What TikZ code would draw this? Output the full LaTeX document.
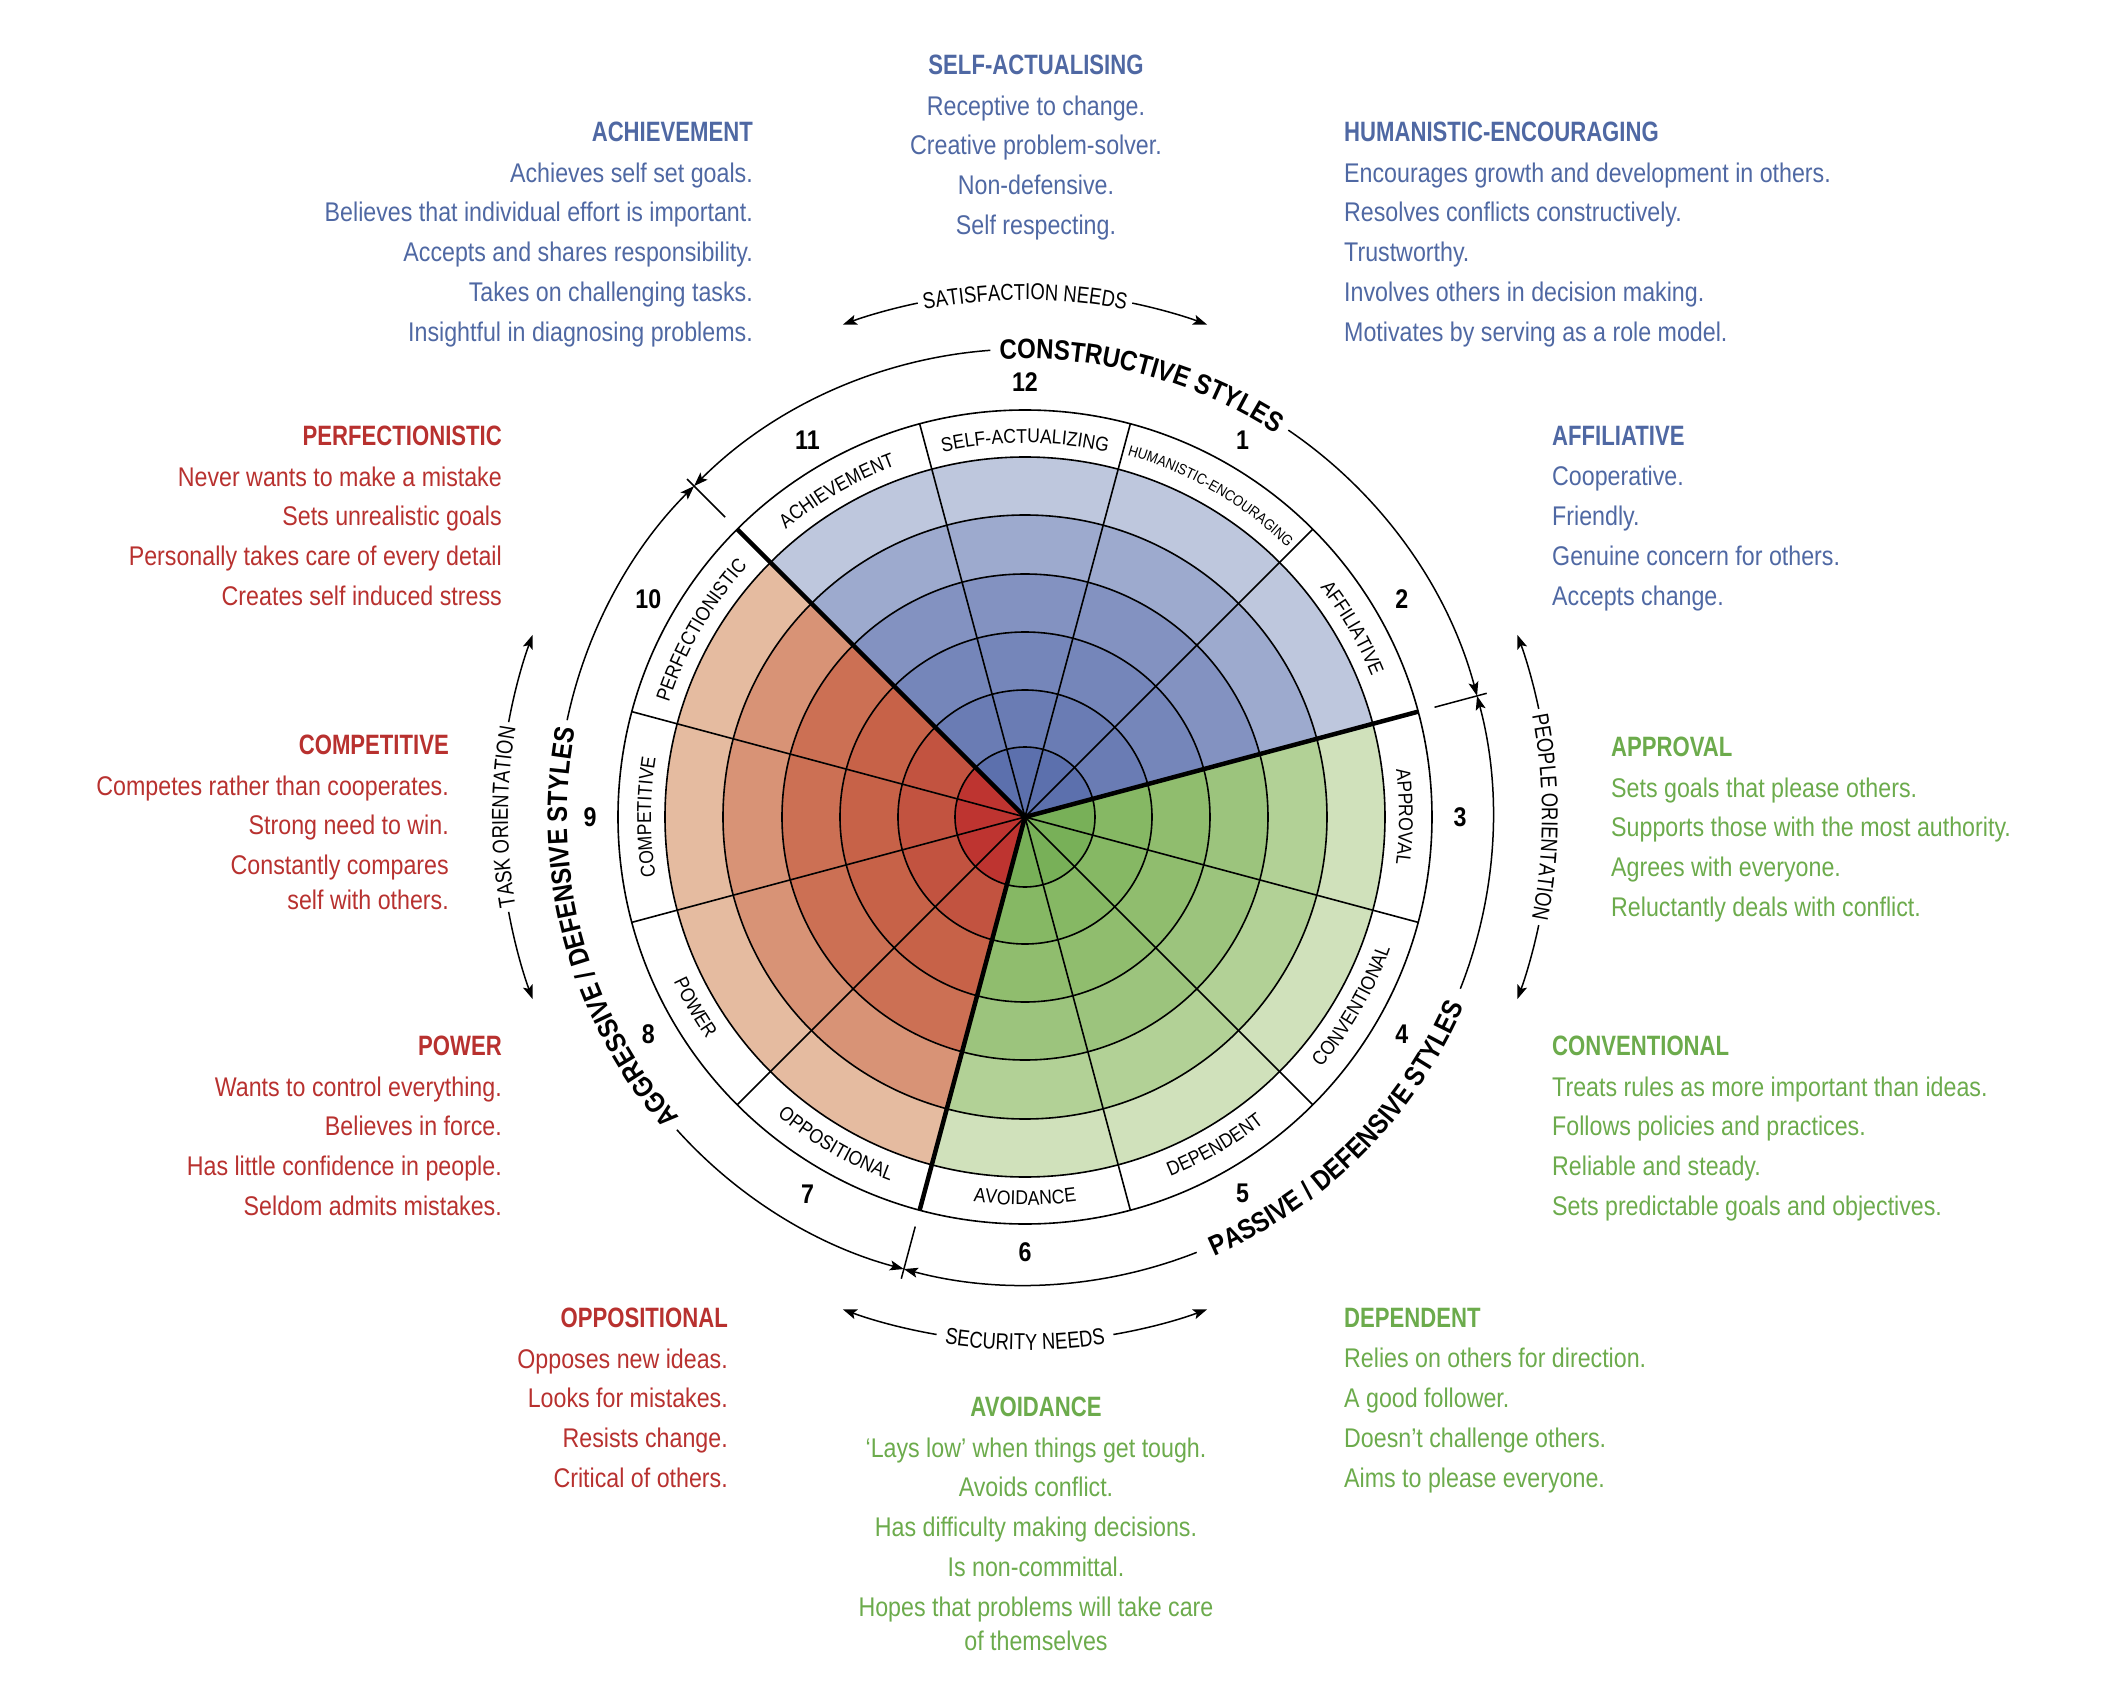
\documentclass[tikz,border=0pt]{standalone}
\usepackage{fontspec}
\setmainfont{Liberation Sans}[FakeStretch=0.86]
\newfontfamily\hdfont{Liberation Sans}[FakeStretch=0.79]
\newfontfamily\stfont{Liberation Sans}[FakeStretch=0.86]
\newfontfamily\lblfont{Liberation Sans}[FakeStretch=0.88]
\newfontfamily\ndfont{Liberation Sans}[FakeStretch=0.80]
\usetikzlibrary{decorations.text,arrows.meta}

\definecolor{b1}{HTML}{BEC7DD}\definecolor{b2}{HTML}{9DAACE}\definecolor{b3}{HTML}{8392C1}
\definecolor{b4}{HTML}{7586BA}\definecolor{b5}{HTML}{6A7CB4}\definecolor{b6}{HTML}{5C70AD}
\definecolor{r1}{HTML}{E5BBA0}\definecolor{r2}{HTML}{D89376}\definecolor{r3}{HTML}{CC7054}
\definecolor{r4}{HTML}{C76248}\definecolor{r5}{HTML}{C25340}\definecolor{r6}{HTML}{BE3430}
\definecolor{g1}{HTML}{D0E1BB}\definecolor{g2}{HTML}{B2D196}\definecolor{g3}{HTML}{9CC47D}
\definecolor{g4}{HTML}{90BD6E}\definecolor{g5}{HTML}{86B864}\definecolor{g6}{HTML}{78B058}
\definecolor{blueT}{HTML}{4F68A3}\definecolor{redT}{HTML}{B8312F}\definecolor{greenT}{HTML}{6CAB4C}

\newcommand\hd{\hdfont\bfseries\fontsize{28}{34.5}\selectfont}
\newcommand\stf{\stfont\bfseries\fontsize{28}{28}\selectfont}
\newcommand\ndf{\ndfont\fontsize{23}{23}\selectfont}
\newcommand\lbf{\lblfont\fontsize{20}{20}\selectfont}
\newcommand\cwlabel[3]{\path[decorate,decoration={text along path,text align=center,text={#3}}]
  ({#2+45}:#1) arc[start angle={#2+45},end angle={#2-45},radius=#1];}
\newcommand\ccwlabel[3]{\path[decorate,decoration={text along path,text align=center,text={#3}}]
  ({#2-45}:#1) arc[start angle={#2-45},end angle={#2+45},radius=#1];}
\newlength\gapw
\newcommand\halfgap[4]{% macro, text, radius, padding
  \settowidth\gapw{#2}\pgfmathsetmacro#1{(0.5*\gapw+#4)/#3*57.2958}}

\begin{document}
\halfgap{\gc}{\stf CONSTRUCTIVE STYLES}{468}{12}%
\halfgap{\gp}{\stf PASSIVE / DEFENSIVE STYLES}{468}{12}%
\halfgap{\ga}{\stf AGGRESSIVE / DEFENSIVE STYLES}{468}{12}%
\halfgap{\gs}{\ndf SATISFACTION NEEDS}{525}{8}%
\halfgap{\gq}{\ndf PEOPLE ORIENTATION}{525}{8}%
\halfgap{\gu}{\ndf SECURITY NEEDS}{525}{8}%
\halfgap{\gt}{\ndf TASK ORIENTATION}{525}{8}%
\begin{tikzpicture}[x=1pt,y=1pt,line join=round,
  grid/.style={line width=1.6pt},
  thickline/.style={line width=4.5pt},
  arr/.style={line width=1.5pt},
  >={Stealth[length=14pt,width=10pt,inset=3pt]},
  body/.style={inner sep=0pt,font=\fontsize{27}{34.5}\selectfont},
  numfont/.style={inner sep=0pt,font=\stfont\bfseries\fontsize{27}{27}\selectfont}]
\useasboundingbox (-1025,-878) rectangle (1084,817);

% coloured sectors
\foreach \r/\cb/\cr/\cg in {360/b1/r1/g1,302/b2/r2/g2,243/b3/r3/g3,185/b4/r4/g4,127/b5/r5/g5,70/b6/r6/g6}{
  \fill[\cb] (0,0) -- (15:\r) arc[start angle=15,end angle=135,radius=\r] -- cycle;
  \fill[\cr] (0,0) -- (135:\r) arc[start angle=135,end angle=255,radius=\r] -- cycle;
  \fill[\cg] (0,0) -- (255:\r) arc[start angle=255,end angle=375,radius=\r] -- cycle;
}
\foreach \r in {70,127,185,243,302,360,407} \draw[grid] (0,0) circle[radius=\r];
\foreach \a in {45,75,105,165,195,225,285,315,345} \draw[grid] (0,0) -- (\a:407);
\foreach \a in {15,135,255} \draw[thickline] (0,0) -- (\a:407);

% ring labels
\cwlabel{374}{90}{|\lbf|SELF-ACTUALIZING}
\cwlabel{376}{60}{|\lblfont\fontsize{15}{15}\selectfont|HUMANISTIC-ENCOURAGING}
\cwlabel{374}{30}{|\lbf|AFFILIATIVE}
\cwlabel{374}{0}{|\lbf|APPROVAL}
\ccwlabel{388}{-30}{|\lbf|CONVENTIONAL}
\ccwlabel{388}{-60}{|\lbf|DEPENDENT}
\ccwlabel{388}{-90}{|\lbf|AVOIDANCE}
\ccwlabel{388}{-120}{|\lbf|OPPOSITIONAL}
\ccwlabel{388}{-150}{|\lbf|POWER}
\cwlabel{374}{180}{|\lbf|COMPETITIVE}
\cwlabel{374}{150}{|\lbf|PERFECTIONISTIC}
\cwlabel{374}{120}{|\lbf|ACHIEVEMENT}

% numbers
\foreach \n in {1,...,12} \node[numfont] (n\n) at ({90-30*\n}:435) {\n};

% ticks
\foreach \a in {15,135,255} \draw[arr] (\a:424) -- (\a:478);

% style arcs
\draw[arr,<-] (135:468) arc[start angle=135,end angle={75+\gc},radius=468];
\draw[arr,->] ({75-\gc}:468) arc[start angle={75-\gc},end angle=15,radius=468];
\cwlabel{458}{75}{|\stf|CONSTRUCTIVE STYLES}

\draw[arr,<-] (15:468) arc[start angle=15,end angle={-45+\gp},radius=468];
\draw[arr,->] ({-45-\gp}:468) arc[start angle={-45-\gp},end angle=-105,radius=468];
\ccwlabel{478}{-45}{|\stf|PASSIVE / DEFENSIVE STYLES}

\draw[arr,<-] (255:468) arc[start angle=255,end angle={195+\ga},radius=468];
\draw[arr,->] ({195-\ga}:468) arc[start angle={195-\ga},end angle=135,radius=468];
\cwlabel{458}{195}{|\stf|AGGRESSIVE / DEFENSIVE STYLES}

% needs / orientation arcs
\draw[arr,->] ({90+\gs}:525) arc[start angle={90+\gs},end angle=110.3,radius=525];
\draw[arr,->] ({90-\gs}:525) arc[start angle={90-\gs},end angle=69.7,radius=525];
\cwlabel{517}{90}{|\ndf|SATISFACTION NEEDS}

\draw[arr,->] ({\gq}:525) arc[start angle={\gq},end angle=20.3,radius=525];
\draw[arr,->] ({-\gq}:525) arc[start angle={-\gq},end angle=-20.3,radius=525];
\cwlabel{517}{0}{|\ndf|PEOPLE ORIENTATION}

\draw[arr,->] ({270-\gu}:525) arc[start angle={270-\gu},end angle=249.7,radius=525];
\draw[arr,->] ({270+\gu}:525) arc[start angle={270+\gu},end angle=290.3,radius=525];
\ccwlabel{533}{270}{|\ndf|SECURITY NEEDS}

\draw[arr,->] ({180-\gt}:525) arc[start angle={180-\gt},end angle=159.7,radius=525];
\draw[arr,->] ({180+\gt}:525) arc[start angle={180+\gt},end angle=200.3,radius=525];
\cwlabel{517}{180}{|\ndf|TASK ORIENTATION}

% description blocks
\node[body,text=blueT,anchor=north,align=center] (tself) at (11,762) {{\hd SELF-ACTUALISING}\\[6pt]
 Receptive to change.\\[5.2pt] Creative problem-solver.\\[5.2pt] Non-defensive.\\[5.2pt] Self respecting.};
\node[body,text=blueT,anchor=north east,align=right] (tach) at (-272,695) {{\hd ACHIEVEMENT}\\[6pt]
 Achieves self set goals.\\[5.2pt] Believes that individual effort is important.\\[5.2pt]
 Accepts and shares responsibility.\\[5.2pt] Takes on challenging tasks.\\[5.2pt] Insightful in diagnosing problems.};
\node[body,text=blueT,anchor=north west,align=left] (thum) at (319,695) {{\hd HUMANISTIC-ENCOURAGING}\\[6pt]
 Encourages growth and development in others.\\[5.2pt] Resolves conflicts constructively.\\[5.2pt]
 Trustworthy.\\[5.2pt] Involves others in decision making.\\[5.2pt] Motivates by serving as a role model.};
\node[body,text=redT,anchor=north east,align=right] (tper) at (-523,391) {{\hd PERFECTIONISTIC}\\[6pt]
 Never wants to make a mistake\\[5.2pt] Sets unrealistic goals\\[5.2pt]
 Personally takes care of every detail\\[5.2pt] Creates self induced stress};
\node[body,text=blueT,anchor=north west,align=left] (taff) at (527,391) {{\hd AFFILIATIVE}\\[6pt]
 Cooperative.\\[5.2pt] Friendly.\\[5.2pt] Genuine concern for others.\\[5.2pt] Accepts change.};
\node[body,text=redT,anchor=north east,align=right] (tcom) at (-576,82) {{\hd COMPETITIVE}\\[6pt]
 Competes rather than cooperates.\\[5.2pt] Strong need to win.\\[5.2pt] Constantly compares\\ self with others.};
\node[body,text=greenT,anchor=north west,align=left] (tapp) at (586,80) {{\hd APPROVAL}\\[6pt]
 Sets goals that please others.\\[5.2pt] Supports those with the most authority.\\[5.2pt]
 Agrees with everyone.\\[5.2pt] Reluctantly deals with conflict.};
\node[body,text=redT,anchor=north east,align=right] (tpow) at (-523,-219) {{\hd POWER}\\[6pt]
 Wants to control everything.\\[5.2pt] Believes in force.\\[5.2pt]
 Has little confidence in people.\\[5.2pt] Seldom admits mistakes.};
\node[body,text=greenT,anchor=north west,align=left] (tcon) at (527,-219) {{\hd CONVENTIONAL}\\[6pt]
 Treats rules as more important than ideas.\\[5.2pt] Follows policies and practices.\\[5.2pt]
 Reliable and steady.\\[5.2pt] Sets predictable goals and objectives.};
\node[body,text=redT,anchor=north east,align=right] (topp) at (-297,-491) {{\hd OPPOSITIONAL}\\[6pt]
 Opposes new ideas.\\[5.2pt] Looks for mistakes.\\[5.2pt] Resists change.\\[5.2pt] Critical of others.};
\node[body,text=greenT,anchor=north west,align=left] (tdep) at (319,-491) {{\hd DEPENDENT}\\[6pt]
 Relies on others for direction.\\[5.2pt] A good follower.\\[5.2pt]
 Doesn’t challenge others.\\[5.2pt] Aims to please everyone.};
\node[body,text=greenT,anchor=north,align=center] (tavo) at (11,-580) {{\hd AVOIDANCE}\\[6pt]
 ‘Lays low’ when things get tough.\\[5.2pt] Avoids conflict.\\[5.2pt]
 Has difficulty making decisions.\\[5.2pt] Is non-committal.\\[5.2pt]
 Hopes that problems will take care\\ of themselves};
\end{tikzpicture}
\end{document}
